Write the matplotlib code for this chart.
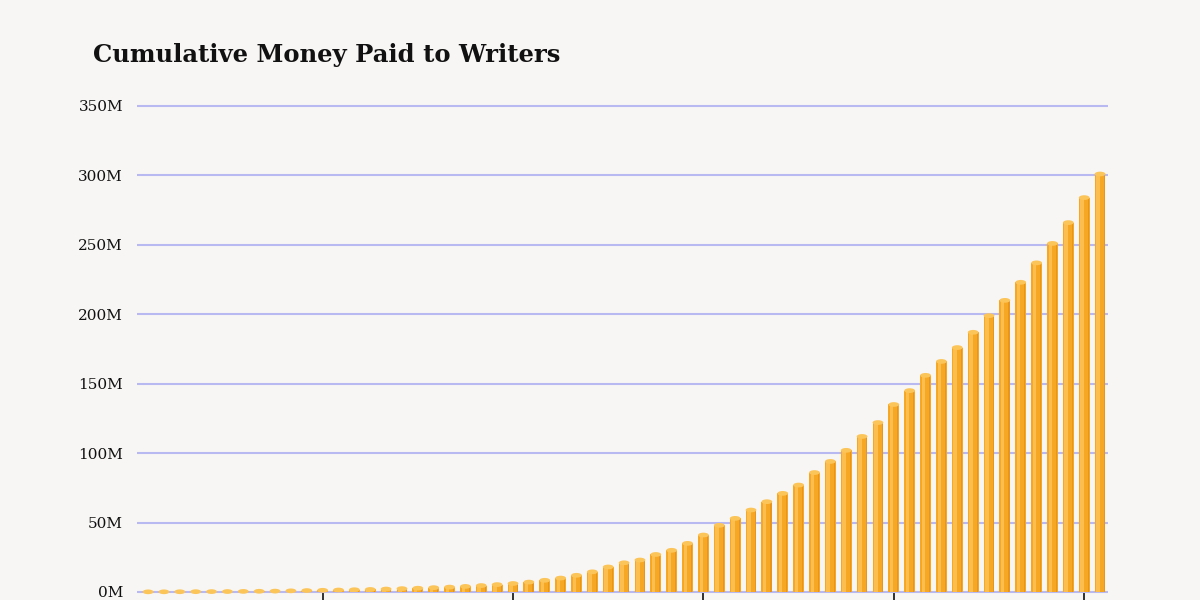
import matplotlib
matplotlib.use('Agg')
import matplotlib.pyplot as plt
from matplotlib.patches import Ellipse
import numpy as np

# Cumulative money paid (millions), one bar per month
values = [0.08, 0.1, 0.15, 0.2, 0.25, 0.3, 0.4, 0.5, 0.6, 0.8, 1.0, 1.2, 1.4, 1.6,
          1.8, 2.1, 2.4, 2.7, 3.1, 3.5, 4.0, 4.6, 5.3, 6.1, 7.1, 8.4, 10.0, 12.0, 14.5,
          18, 21, 23, 27, 30, 35, 41, 48, 53, 59, 65, 71, 77, 86, 94, 102, 112, 122,
          135, 145, 156, 166, 176, 187, 199, 210, 223, 237, 251, 266, 284, 301]
y_ticks = [0, 50, 100, 150, 200, 250, 300, 350]
y_labels = ['0M', '50M', '100M', '150M', '200M', '250M', '300M', '350M']
year_ticks = [11, 23, 35, 47, 59]

bg = '#f8f6f4'
fig = plt.figure(figsize=(12, 6), dpi=100, facecolor=bg)
ax = fig.add_axes([137 / 1200, 0, (1108 - 137) / 1200, 501 / 600], facecolor=bg)

x = np.arange(len(values))
w = 0.68
# cylinder body: base colour, light left strip, darker right strip
ax.bar(x, values, width=w, color='#f6a723', zorder=3)
ax.bar(x - w * 0.2, values, width=w * 0.32, color='#fcbf4f', zorder=3)
ax.bar(x + w * 0.38, values, width=w * 0.1, color='#e8951c', zorder=3)
for xi, v in zip(x, values):
    ax.add_patch(Ellipse((xi, v), w, 3.4, facecolor='#fcc55a', edgecolor='none', zorder=4))

ax.set_xlim(-0.7, 60.5)
ax.set_ylim(-5.8, 355)
ax.set_yticks(y_ticks)
ax.set_yticklabels(y_labels, fontfamily='DejaVu Serif', fontsize=11, color='#111111')
ax.yaxis.grid(True, color='#b9b9f2', linewidth=1.5, zorder=0)
ax.tick_params(axis='y', length=0, pad=10)

ax.spines['bottom'].set_position(('data', 0))
for s in ax.spines.values():
    s.set_visible(False)
ax.set_xticks(year_ticks)
ax.set_xticklabels([])
ax.tick_params(axis='x', direction='out', length=10, width=1.3, color='#222222')

fig.text(93 / 1200, 1 - 55 / 600, 'Cumulative Money Paid to Writers', fontfamily='DejaVu Serif',
         fontweight='bold', fontsize=17.5, color='#111111', va='center')

fig.savefig('out.png', dpi=100, facecolor=bg)
